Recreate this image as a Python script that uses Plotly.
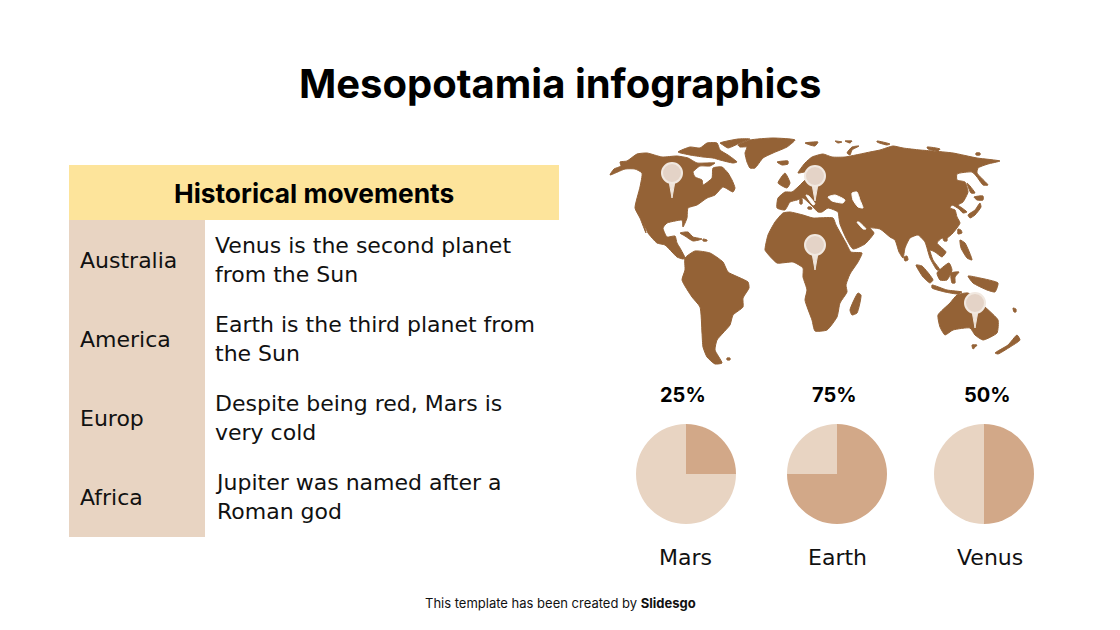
import plotly.graph_objects as go

FONT = 'Inter'
BODY_FONT = 'DejaVu Sans'
BROWN = '#946236'
PIE_DARK = '#D2A888'
PIE_LIGHT = '#E8D4C2'

title = 'Mesopotamia infographics'
table_header = 'Historical movements'
regions = ['Australia', 'America', 'Europ', 'Africa']
descriptions = ['Venus is the second planet<br>from the Sun',
                'Earth is the third planet from<br>the Sun',
                'Despite being red, Mars is<br>very cold',
                'Jupiter was named after a<br>Roman god']
planets = ['Mars', 'Earth', 'Venus']
shares = [25, 75, 50]

# outlines
north_america = [(610,175),(614,169),(621,166),(620,162),(627,161),(637,154),(647,153),(662,157),(677,156),(688,158),
                 (697,163),(707,163),(715,163),(710,166),(700,166),(693,172),(695,177),(702,180),(703,185),(712,178),
                 (713,168),(722,167),(728,173),(732,180),(735,188),(733,192),(723,187),(715,195),(707,198),(697,205),
                 (688,208),(687,218),(683,227),(682,220),(675,221),(667,223),(663,228),(667,237),(675,236),(677,243),
                 (680,248),(685,258),(683,259),(677,257),(672,252),(665,245),(657,243),(648,233),(644,224),(646,233),
                 (640,218),(635,208),(640,187),(642,173),(635,169),(625,169)]
south_america = [(685,258),(695,251),(710,253),(723,262),(728,272),(748,282),(749,288),(743,298),(743,307),(733,315),
                 (730,325),(723,333),(717,340),(715,350),(722,363),(715,364),(707,357),(703,347),(702,333),(700,307),
                 (692,297),(682,280),(685,270)]
africa = [(765,250),(768,235),(775,222),(783,213),(790,212),(803,215),(813,218),(833,218),(836,225),(846,243),
          (851,252),(862,253),(858,262),(850,274),(846,285),(847,292),(840,303),(837,317),(827,330),(815,331),
          (812,320),(805,300),(807,290),(803,277),(803,268),(793,262),(777,263),(767,253)]
eurasia = [(777,208),(778,198),(785,192),(792,192),(798,187),(803,182),(808,177),(806,172),(798,173),(805,163),
           (812,157),(823,154),(832,157),(845,157),(870,152),(880,150),(893,146),(903,148),(920,150),(933,151),
           (953,153),(977,158),(1000,161),(988,164),(978,168),(977,173),(988,185),(983,185),(977,177),(972,172),
           (957,174),(957,180),(965,182),(968,192),(963,202),(958,205),(962,208),(967,212),(963,213),(959,209),
           (952,205),(950,208),(955,210),(957,217),(960,223),(953,233),(947,238),(942,238),(937,243),(946,252),
           (942,257),(935,252),(930,250),(933,260),(940,270),(937,270),(930,258),(925,242),(918,235),(910,238),
           (905,248),(903,258),(899,252),(895,240),(890,237),(880,229),(870,228),(874,233),(865,244),(853,249),
           (846,238),(840,224),(839,218),(838,212),(828,208),(822,212),(818,212),(813,207),(803,198),(797,200),
           (790,202),(785,210)]
australia = [(938,315),(950,303),(957,295),(968,293),(985,307),(998,320),(997,333),(983,340),(975,335),(970,328),
             (953,330),(945,335),(940,327)]
greenland = [(738,145),(750,140),(773,138),(795,140),(787,147),(773,153),(763,158),(755,168),(750,168),(747,162),
             (745,153),(747,147),(740,147)]
arctic_canada = [(678,152),(690,147),(700,148),(707,143),(717,143),(720,150),(728,155),(737,162),(733,163),(720,160),
                 (713,158),(703,157),(690,155)]
ellesmere = [(720,143),(738,139),(750,139),(740,143),(728,148),(723,145)]
iceland = [(777,162),(788,161),(788,164),(782,165)]
cuba = [(680,233),(688,232),(693,237),(702,239),(693,241),(685,236)]
hispaniola = [(703,239),(707,240),(707,241),(703,241)]
falklands = [(727,358),(730,358),(730,360),(727,360)]
madagascar = [(858,293),(861,295),(857,313),(852,315),(850,310)]
britain = [(778,183),(785,173),(790,183),(787,188)]
svalbard = [(805,143),(818,142),(815,146),(810,145)]
novaya_zemlya = [(847,153),(852,147),(859,146),(852,150),(850,155)]
franz_josef = [(835,141),(842,142),(838,143)]
franz_east = [(845,141),(852,141),(850,143)]
severnaya = [(877,141),(890,144),(887,145),(877,142)]
new_siberia = [(927,147),(940,149),(938,151),(928,149)]
wrangel = [(976,153),(980,153),(980,155),(976,155)]
sardinia = [(800,199),(802,199),(802,204),(800,204)]
sicily = [(808,207),(811,207),(812,209),(808,209)]
honshu = [(968,215),(975,210),(980,203),(981,207),(975,215),(970,218)]
hokkaido = [(974,197),(983,196),(983,200),(977,200)]
sakhalin = [(967,183),(970,186),(975,193),(971,193)]
hainan = [(943,238),(947,238),(947,241),(944,241)]
taiwan = [(958,229),(961,230),(962,233),(958,234)]
sri_lanka = [(904,257),(907,256),(908,260),(905,261)]
philippines = [(960,240),(965,243),(972,260),(967,258),(961,248)]
sumatra = [(916,265),(922,266),(933,280),(930,283),(923,277)]
java = [(932,285),(947,290),(962,292),(958,294),(945,292),(932,288)]
borneo = [(937,273),(949,263),(952,270),(947,280),(940,280)]
sulawesi = [(951,273),(959,272),(955,277),(955,283),(952,283)]
new_guinea = [(968,276),(980,278),(998,283),(995,292),(987,290),(973,283)]
tasmania = [(972,345),(977,345),(973,349)]
new_zealand = [(995,353),(1008,345),(1017,335),(1020,340),(1010,347),(998,354)]
new_caledonia = [(1013,308),(1016,309),(1016,312),(1014,312)]

land = [north_america, south_america, africa, eurasia, australia, greenland, arctic_canada, ellesmere, iceland, cuba,
        hispaniola, falklands, madagascar, britain, svalbard, novaya_zemlya, franz_josef, franz_east, severnaya,
        new_siberia, wrangel, sardinia, sicily, honshu, hokkaido, sakhalin, hainan, taiwan, sri_lanka, philippines,
        sumatra, java, borneo, sulawesi, new_guinea, tasmania, new_zealand, new_caledonia]

black_sea = [(828,197),(835,195),(845,200),(843,203),(832,201)]
caspian = [(852,193),(857,192),(860,200),(863,208),(858,207),(853,200)]
persian_gulf = [(857,222),(859,222),(866,229),(863,229)]
adriatic = [(806,195),(809,196),(815,204),(813,205)]
seas = [black_sea, caspian, persian_gulf, adriatic]

pin_x = [672, 815, 815, 975]
pin_y = [173, 176, 245, 303]

fig = go.Figure()


def add_poly(poly, color, shape='linear'):
    fig.add_trace(go.Scatter(x=[p[0] for p in poly] + [poly[0][0]], y=[p[1] for p in poly] + [poly[0][1]],
                             mode='lines', fill='toself', fillcolor=color,
                             line=dict(color=color, width=1, shape=shape, smoothing=0.5), hoverinfo='skip'))


for poly in land:
    add_poly(poly, BROWN, 'spline')
for sea in seas:
    add_poly(sea, 'white', 'spline')

# pins: tail first, then the round head
for px, py in zip(pin_x, pin_y):
    add_poly([(px - 3, py + 8), (px + 3, py + 8), (px, py + 25)], '#EFE4DA')
fig.add_trace(go.Scatter(x=pin_x, y=pin_y, mode='markers', hoverinfo='skip',
                         marker=dict(size=20, color='#E4D3C7', line=dict(color='#F1E8E0', width=2))))

pie_centers = [686, 837, 984]
share_label_x = [683, 834, 987]
planet_label_x = [685.5, 837.5, 990]
pie_cy = 474
pie_r = 50
for i, (name, share, cx) in enumerate(zip(planets, shares, pie_centers)):
    fig.add_trace(go.Pie(values=[share, 100 - share], sort=False, direction='clockwise', rotation=0,
                         marker=dict(colors=[PIE_DARK, PIE_LIGHT], line=dict(width=0)),
                         textinfo='none', hoverinfo='skip', showlegend=False,
                         domain=dict(x=[(cx - pie_r) / 1120, (cx + pie_r) / 1120],
                                     y=[(630 - pie_cy - pie_r) / 630, (630 - pie_cy + pie_r) / 630])))
    fig.add_annotation(x=share_label_x[i], y=395, text=f'<b>{share}%</b>', showarrow=False,
                       font=dict(family=FONT, size=20, color='#000000'))
    fig.add_annotation(x=planet_label_x[i], y=557, text=name, showarrow=False,
                       font=dict(family=BODY_FONT, size=22, color='#111111'))

# table
fig.add_shape(type='rect', x0=69, x1=559, y0=165, y1=220, fillcolor='#FDE49B', line_width=0, layer='below')
fig.add_shape(type='rect', x0=69, x1=205, y0=220, y1=537, fillcolor='#E8D4C2', line_width=0, layer='below')
fig.add_annotation(x=314, y=193, text=f'<b>{table_header}</b>', showarrow=False,
                   font=dict(family=FONT, size=26.3, color='#000000'))
for i, (region, desc) in enumerate(zip(regions, descriptions)):
    yc = 260 + i * 79
    fig.add_annotation(x=77.5, y=yc, text=region, showarrow=False, xanchor='left',
                       font=dict(family=BODY_FONT, size=22, color='#111111'))
    fig.add_annotation(x=213, y=yc, text=desc, showarrow=False, xanchor='left', align='left',
                       font=dict(family=BODY_FONT, size=22, color='#111111'))

fig.add_annotation(x=560, y=83, text=f'<b>{title}</b>', showarrow=False,
                   font=dict(family=FONT, size=40, color='#000000'))
fig.add_annotation(x=560, y=603, text='This template has been created by <b>Slidesgo</b>', showarrow=False,
                   font=dict(family=FONT, size=13, color='#111111'))

fig.update_layout(width=1120, height=630, margin=dict(l=0, r=0, t=0, b=0), showlegend=False,
                  paper_bgcolor='white', plot_bgcolor='white',
                  xaxis=dict(range=[0, 1120], visible=False, fixedrange=True),
                  yaxis=dict(range=[630, 0], visible=False, fixedrange=True))

# page body has a default 8px margin that would shift the whole figure
fig.write_html("out.html", post_script="document.body.style.margin='0';", config=dict(displayModeBar=False))
